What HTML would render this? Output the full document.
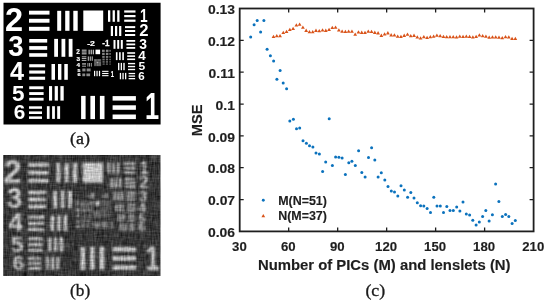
<!DOCTYPE html>
<html><head><meta charset="utf-8"><title>Figure</title>
<style>html,body{margin:0;padding:0;background:#fff}svg{display:block}</style></head>
<body>
<svg width="550" height="305" viewBox="0 0 550 305">
<defs>
<filter id="soft" x="-2%" y="-2%" width="104%" height="104%"><feGaussianBlur stdDeviation="0.45"/></filter>
<filter id="noisy" x="0" y="0" width="100%" height="100%" color-interpolation-filters="sRGB">
<feGaussianBlur in="SourceGraphic" stdDeviation="0.9" result="b"/>
<feComponentTransfer in="b" result="lc"><feFuncR type="linear" slope="0.56" intercept="0.215"/><feFuncG type="linear" slope="0.56" intercept="0.215"/><feFuncB type="linear" slope="0.56" intercept="0.215"/></feComponentTransfer>
<feTurbulence type="fractalNoise" baseFrequency="0.1 0.65" numOctaves="2" seed="3" result="n1"/>
<feColorMatrix in="n1" type="matrix" values="1 0 0 0 0  1 0 0 0 0  1 0 0 0 0  0 0 0 0 1" result="g1"/>
<feTurbulence type="fractalNoise" baseFrequency="0.65 0.1" numOctaves="2" seed="8" result="n2"/>
<feColorMatrix in="n2" type="matrix" values="1 0 0 0 0  1 0 0 0 0  1 0 0 0 0  0 0 0 0 1" result="g2"/>
<feComposite in="lc" in2="g1" operator="arithmetic" k1="0.15" k2="0.925" k3="0.165" k4="-0.0825" result="m1"/>
<feComposite in="m1" in2="g2" operator="arithmetic" k1="0.12" k2="0.94" k3="0.25" k4="-0.125"/>
</filter>
<clipPath id="ca"><rect x="3.5" y="2.75" width="157.1" height="121.65"/></clipPath>
<clipPath id="cb"><rect x="3.2" y="155.1" width="157.3" height="120.9"/></clipPath>
<g id="usaf"><rect x="0" y="0" width="165" height="128" fill="#000"/><text transform="matrix(0.3250 0 0 0.3355 4.96 30.80)" font-family='"Liberation Sans",sans-serif' font-weight="700" font-size="100" fill="#fff">2</text><rect x="29.00" y="10.70" width="20.50" height="3.90" fill="#fff"/><rect x="29.00" y="18.80" width="20.50" height="3.90" fill="#fff"/><rect x="29.00" y="26.80" width="20.50" height="4.00" fill="#fff"/><rect x="57.20" y="10.80" width="4.00" height="20.00" fill="#fff"/><rect x="65.20" y="10.80" width="4.30" height="20.00" fill="#fff"/><rect x="73.30" y="10.80" width="4.40" height="20.00" fill="#fff"/><text transform="matrix(0.2754 0 0 0.2901 8.18 56.24)" font-family='"Liberation Sans",sans-serif' font-weight="700" font-size="100" fill="#fff">3</text><rect x="29.20" y="39.00" width="18.00" height="3.60" fill="#fff"/><rect x="29.20" y="46.10" width="18.00" height="3.70" fill="#fff"/><rect x="29.20" y="53.20" width="18.00" height="3.60" fill="#fff"/><rect x="54.20" y="38.90" width="3.80" height="17.90" fill="#fff"/><rect x="61.50" y="38.90" width="3.80" height="17.90" fill="#fff"/><rect x="68.70" y="38.90" width="3.80" height="17.90" fill="#fff"/><text transform="matrix(0.2523 0 0 0.2618 10.12 79.80)" font-family='"Liberation Sans",sans-serif' font-weight="700" font-size="100" fill="#fff">4</text><rect x="29.20" y="64.20" width="15.90" height="3.10" fill="#fff"/><rect x="29.20" y="70.50" width="15.90" height="3.10" fill="#fff"/><rect x="29.20" y="76.70" width="15.90" height="3.10" fill="#fff"/><rect x="51.50" y="64.00" width="3.50" height="15.80" fill="#fff"/><rect x="58.00" y="64.00" width="3.40" height="15.80" fill="#fff"/><rect x="64.30" y="64.00" width="3.50" height="15.80" fill="#fff"/><text transform="matrix(0.2251 0 0 0.2294 12.12 100.57)" font-family='"Liberation Sans",sans-serif' font-weight="700" font-size="100" fill="#fff">5</text><rect x="29.20" y="86.30" width="14.40" height="2.90" fill="#fff"/><rect x="29.20" y="92.10" width="14.40" height="2.90" fill="#fff"/><rect x="29.20" y="97.80" width="14.40" height="2.80" fill="#fff"/><rect x="49.00" y="86.10" width="3.10" height="14.50" fill="#fff"/><rect x="54.70" y="86.10" width="3.20" height="14.50" fill="#fff"/><rect x="60.40" y="86.10" width="3.30" height="14.50" fill="#fff"/><text transform="matrix(0.2073 0 0 0.2092 13.72 119.09)" font-family='"Liberation Sans",sans-serif' font-weight="700" font-size="100" fill="#fff">6</text><rect x="29.00" y="106.30" width="13.00" height="2.50" fill="#fff"/><rect x="29.00" y="111.40" width="13.00" height="2.60" fill="#fff"/><rect x="29.00" y="116.40" width="13.00" height="2.50" fill="#fff"/><rect x="46.90" y="106.20" width="2.70" height="12.70" fill="#fff"/><rect x="52.10" y="106.20" width="2.80" height="12.70" fill="#fff"/><rect x="57.20" y="106.20" width="2.90" height="12.70" fill="#fff"/><rect x="81.10" y="95.90" width="4.50" height="23.20" fill="#fff"/><rect x="90.40" y="95.90" width="4.60" height="23.20" fill="#fff"/><rect x="99.90" y="95.90" width="4.60" height="23.20" fill="#fff"/><rect x="112.60" y="96.10" width="23.30" height="4.50" fill="#fff"/><rect x="112.60" y="105.30" width="23.30" height="4.50" fill="#fff"/><rect x="112.60" y="114.50" width="23.30" height="4.60" fill="#fff"/><text transform="matrix(0.2538 0 0 0.3622 145.11 119.40)" font-family='"Liberation Sans",sans-serif' font-weight="700" font-size="100" fill="#fff">1</text><rect x="83.30" y="10.50" width="19.90" height="20.40" fill="#fff"/><rect x="108.00" y="10.30" width="2.30" height="11.50" fill="#fff"/><rect x="112.60" y="10.30" width="2.30" height="11.50" fill="#fff"/><rect x="117.20" y="10.30" width="2.30" height="11.50" fill="#fff"/><rect x="124.20" y="10.40" width="11.30" height="2.20" fill="#fff"/><rect x="124.20" y="15.00" width="11.30" height="2.20" fill="#fff"/><rect x="124.20" y="19.60" width="11.30" height="2.20" fill="#fff"/><text transform="matrix(0.1376 0 0 0.1905 140.04 22.00)" font-family='"Liberation Sans",sans-serif' font-weight="700" font-size="100" fill="#fff">1</text><rect x="110.80" y="26.00" width="2.20" height="10.00" fill="#fff"/><rect x="115.00" y="26.00" width="2.20" height="10.00" fill="#fff"/><rect x="119.10" y="26.00" width="2.20" height="10.00" fill="#fff"/><rect x="125.00" y="26.10" width="10.20" height="2.00" fill="#fff"/><rect x="125.00" y="30.00" width="10.20" height="2.00" fill="#fff"/><rect x="125.00" y="34.00" width="10.20" height="2.00" fill="#fff"/><text transform="matrix(0.1667 0 0 0.1606 139.22 36.20)" font-family='"Liberation Sans",sans-serif' font-weight="700" font-size="100" fill="#fff">2</text><rect x="113.50" y="40.00" width="2.00" height="8.80" fill="#fff"/><rect x="117.20" y="40.00" width="2.00" height="8.80" fill="#fff"/><rect x="120.80" y="40.00" width="2.00" height="8.80" fill="#fff"/><rect x="126.40" y="40.00" width="8.80" height="1.80" fill="#fff"/><rect x="126.40" y="43.50" width="8.80" height="1.80" fill="#fff"/><rect x="126.40" y="47.00" width="8.80" height="1.80" fill="#fff"/><text transform="matrix(0.1387 0 0 0.1437 139.19 49.02)" font-family='"Liberation Sans",sans-serif' font-weight="700" font-size="100" fill="#fff">3</text><rect x="115.90" y="52.20" width="1.60" height="7.90" fill="#fff"/><rect x="119.10" y="52.20" width="1.60" height="7.90" fill="#fff"/><rect x="122.30" y="52.20" width="1.60" height="7.90" fill="#fff"/><rect x="127.20" y="52.20" width="7.90" height="1.60" fill="#fff"/><rect x="127.20" y="55.35" width="7.90" height="1.60" fill="#fff"/><rect x="127.20" y="58.50" width="7.90" height="1.60" fill="#fff"/><text transform="matrix(0.1346 0 0 0.1265 138.20 60.20)" font-family='"Liberation Sans",sans-serif' font-weight="700" font-size="100" fill="#fff">4</text><rect x="118.00" y="62.90" width="1.40" height="7.30" fill="#fff"/><rect x="120.70" y="62.90" width="1.30" height="7.30" fill="#fff"/><rect x="123.30" y="62.90" width="1.40" height="7.30" fill="#fff"/><rect x="128.00" y="62.90" width="7.10" height="1.40" fill="#fff"/><rect x="128.00" y="65.85" width="7.10" height="1.40" fill="#fff"/><rect x="128.00" y="68.80" width="7.10" height="1.40" fill="#fff"/><text transform="matrix(0.1206 0 0 0.1147 138.44 70.29)" font-family='"Liberation Sans",sans-serif' font-weight="700" font-size="100" fill="#fff">5</text><rect x="119.80" y="72.90" width="1.30" height="6.40" fill="#fff"/><rect x="122.40" y="72.90" width="1.30" height="6.40" fill="#fff"/><rect x="125.00" y="72.90" width="1.30" height="6.40" fill="#fff"/><rect x="128.60" y="72.90" width="6.50" height="1.30" fill="#fff"/><rect x="128.60" y="75.45" width="6.50" height="1.30" fill="#fff"/><rect x="128.60" y="78.00" width="6.50" height="1.30" fill="#fff"/><text transform="matrix(0.1161 0 0 0.1046 138.36 79.50)" font-family='"Liberation Sans",sans-serif' font-weight="700" font-size="100" fill="#fff">6</text><text transform="matrix(0.0867 0 0 0.0774 87.15 46.20)" font-family='"Liberation Sans",sans-serif' font-weight="700" font-size="100" fill="#fff" stroke="#fff" stroke-width="0.25" vector-effect="non-scaling-stroke">-2</text><text transform="matrix(0.0805 0 0 0.0815 102.28 46.40)" font-family='"Liberation Sans",sans-serif' font-weight="700" font-size="100" fill="#fff" stroke="#fff" stroke-width="0.25" vector-effect="non-scaling-stroke">-1</text><text transform="matrix(0.0646 0 0 0.0645 76.37 54.30)" font-family='"Liberation Sans",sans-serif' font-weight="700" font-size="100" fill="#fff" stroke="#fff" stroke-width="0.18" vector-effect="non-scaling-stroke">2</text><rect x="81.80" y="49.70" width="4.80" height="0.92" fill="#e6e6e6"/><rect x="81.80" y="51.54" width="4.80" height="0.92" fill="#e6e6e6"/><rect x="81.80" y="53.38" width="4.80" height="0.92" fill="#e6e6e6"/><rect x="88.60" y="49.70" width="1.04" height="4.60" fill="#e6e6e6"/><rect x="90.68" y="49.70" width="1.04" height="4.60" fill="#e6e6e6"/><rect x="92.76" y="49.70" width="1.04" height="4.60" fill="#e6e6e6"/><text transform="matrix(0.0643 0 0 0.0620 76.46 60.82)" font-family='"Liberation Sans",sans-serif' font-weight="700" font-size="100" fill="#fff" stroke="#fff" stroke-width="0.18" vector-effect="non-scaling-stroke">3</text><rect x="81.80" y="56.40" width="4.60" height="0.88" fill="#ccc"/><rect x="81.80" y="58.16" width="4.60" height="0.88" fill="#ccc"/><rect x="81.80" y="59.92" width="4.60" height="0.88" fill="#ccc"/><rect x="87.80" y="56.40" width="0.98" height="4.40" fill="#ccc"/><rect x="89.76" y="56.40" width="0.98" height="4.40" fill="#ccc"/><rect x="91.72" y="56.40" width="0.98" height="4.40" fill="#ccc"/><text transform="matrix(0.0636 0 0 0.0553 76.50 66.70)" font-family='"Liberation Sans",sans-serif' font-weight="700" font-size="100" fill="#fff" stroke="#fff" stroke-width="0.18" vector-effect="non-scaling-stroke">4</text><rect x="82.10" y="63.00" width="3.90" height="0.72" fill="#bbb"/><rect x="82.10" y="64.44" width="3.90" height="0.72" fill="#bbb"/><rect x="82.10" y="65.88" width="3.90" height="0.72" fill="#bbb"/><rect x="87.50" y="63.00" width="0.84" height="3.60" fill="#bbb"/><rect x="89.18" y="63.00" width="0.84" height="3.60" fill="#bbb"/><rect x="90.86" y="63.00" width="0.84" height="3.60" fill="#bbb"/><text transform="matrix(0.0523 0 0 0.0430 77.44 71.56)" font-family='"Liberation Sans",sans-serif' font-weight="700" font-size="100" fill="#fff" stroke="#fff" stroke-width="0.18" vector-effect="non-scaling-stroke">5</text><rect x="82.30" y="68.50" width="3.20" height="2.90" fill="#888"/><rect x="86.70" y="68.50" width="3.90" height="2.90" fill="#888"/><text transform="matrix(0.0560 0 0 0.0424 77.59 76.46)" font-family='"Liberation Sans",sans-serif' font-weight="700" font-size="100" fill="#fff" stroke="#fff" stroke-width="0.18" vector-effect="non-scaling-stroke">6</text><rect x="82.30" y="73.50" width="2.90" height="2.70" fill="#888"/><rect x="86.40" y="73.50" width="3.70" height="2.70" fill="#888"/><rect x="95.50" y="49.60" width="4.60" height="4.60" fill="#fff"/><rect x="102.00" y="49.70" width="2.70" height="2.20" fill="#8a8a8a"/><rect x="105.90" y="49.70" width="2.60" height="2.20" fill="#8a8a8a"/><rect x="109.50" y="49.90" width="1.10" height="1.80" fill="#9a9a9a"/><rect x="102.12" y="52.80" width="2.58" height="2.20" fill="#858585"/><rect x="105.90" y="52.80" width="2.48" height="2.20" fill="#858585"/><rect x="109.50" y="53.00" width="1.10" height="1.80" fill="#9a9a9a"/><rect x="102.24" y="55.90" width="2.46" height="2.00" fill="#7c7c7c"/><rect x="105.90" y="55.90" width="2.36" height="2.00" fill="#7c7c7c"/><rect x="109.50" y="56.10" width="1.10" height="1.60" fill="#9a9a9a"/><rect x="102.36" y="58.60" width="2.34" height="1.80" fill="#747474"/><rect x="105.90" y="58.60" width="2.24" height="1.80" fill="#747474"/><rect x="109.50" y="58.80" width="1.10" height="1.40" fill="#9a9a9a"/><rect x="102.48" y="61.10" width="2.22" height="1.60" fill="#6c6c6c"/><rect x="105.90" y="61.10" width="2.12" height="1.60" fill="#6c6c6c"/><rect x="109.50" y="61.30" width="1.10" height="1.20" fill="#9a9a9a"/><rect x="102.60" y="63.40" width="2.10" height="1.40" fill="#646464"/><rect x="105.90" y="63.40" width="2.00" height="1.40" fill="#646464"/><rect x="109.50" y="63.60" width="1.10" height="1.00" fill="#9a9a9a"/><rect x="94.00" y="59.00" width="7.20" height="7.20" fill="#4a4a4a"/><rect x="94.40" y="59.40" width="2.20" height="2.00" fill="#777"/><rect x="97.60" y="59.20" width="3.00" height="1.80" fill="#6a6a6a"/><rect x="96.60" y="61.80" width="1.80" height="1.60" fill="#aaa"/><rect x="94.40" y="62.40" width="1.60" height="3.20" fill="#666"/><rect x="99.20" y="62.00" width="1.60" height="3.80" fill="#707070"/><rect x="96.80" y="64.20" width="1.80" height="1.60" fill="#7a7a7a"/><rect x="94.00" y="70.80" width="1.22" height="5.40" fill="#fff"/><rect x="96.44" y="70.80" width="1.22" height="5.40" fill="#fff"/><rect x="98.88" y="70.80" width="1.22" height="5.40" fill="#fff"/><rect x="102.10" y="70.80" width="6.40" height="1.08" fill="#fff"/><rect x="102.10" y="72.96" width="6.40" height="1.08" fill="#fff"/><rect x="102.10" y="75.12" width="6.40" height="1.08" fill="#fff"/><text transform="matrix(0.0559 0 0 0.0887 110.65 76.60)" font-family='"Liberation Sans",sans-serif' font-weight="700" font-size="100" fill="#fff" stroke="#fff" stroke-width="0.18" vector-effect="non-scaling-stroke">1</text></g>
</defs>
<rect width="550" height="305" fill="#fff"/>
<g clip-path="url(#ca)"><use href="#usaf" filter="url(#soft)"/></g>
<g clip-path="url(#cb)"><g transform="translate(-1.4 152.25) scale(1.011 0.9875)"><use href="#usaf" filter="url(#noisy)"/></g></g>
<rect x="239.7" y="8.5" width="293.90" height="222.90" fill="none" stroke="#1e1e1e" stroke-width="1.8"/><text transform="matrix(0.1319 0 0 0.1276 232.10 250.70)" font-family='"Liberation Sans",sans-serif' font-weight="700" font-size="100" fill="#1e1e1e" stroke="#1e1e1e" stroke-width="0.15" vector-effect="non-scaling-stroke">30</text><path d="M288.68 231.4v-4.0M288.68 8.5v4.0" stroke="#1e1e1e" stroke-width="1.3"/><text transform="matrix(0.1319 0 0 0.1276 280.98 250.70)" font-family='"Liberation Sans",sans-serif' font-weight="700" font-size="100" fill="#1e1e1e" stroke="#1e1e1e" stroke-width="0.15" vector-effect="non-scaling-stroke">60</text><path d="M337.67 231.4v-4.0M337.67 8.5v4.0" stroke="#1e1e1e" stroke-width="1.3"/><text transform="matrix(0.1319 0 0 0.1276 329.98 250.70)" font-family='"Liberation Sans",sans-serif' font-weight="700" font-size="100" fill="#1e1e1e" stroke="#1e1e1e" stroke-width="0.15" vector-effect="non-scaling-stroke">90</text><path d="M386.65 231.4v-4.0M386.65 8.5v4.0" stroke="#1e1e1e" stroke-width="1.3"/><text transform="matrix(0.1319 0 0 0.1276 375.11 250.70)" font-family='"Liberation Sans",sans-serif' font-weight="700" font-size="100" fill="#1e1e1e" stroke="#1e1e1e" stroke-width="0.15" vector-effect="non-scaling-stroke">120</text><path d="M435.63 231.4v-4.0M435.63 8.5v4.0" stroke="#1e1e1e" stroke-width="1.3"/><text transform="matrix(0.1319 0 0 0.1276 424.09 250.70)" font-family='"Liberation Sans",sans-serif' font-weight="700" font-size="100" fill="#1e1e1e" stroke="#1e1e1e" stroke-width="0.15" vector-effect="non-scaling-stroke">150</text><path d="M484.62 231.4v-4.0M484.62 8.5v4.0" stroke="#1e1e1e" stroke-width="1.3"/><text transform="matrix(0.1319 0 0 0.1276 473.07 250.70)" font-family='"Liberation Sans",sans-serif' font-weight="700" font-size="100" fill="#1e1e1e" stroke="#1e1e1e" stroke-width="0.15" vector-effect="non-scaling-stroke">180</text><text transform="matrix(0.1319 0 0 0.1276 522.24 250.70)" font-family='"Liberation Sans",sans-serif' font-weight="700" font-size="100" fill="#1e1e1e" stroke="#1e1e1e" stroke-width="0.15" vector-effect="non-scaling-stroke">210</text><text transform="matrix(0.1390 0 0 0.1276 207.94 14.25)" font-family='"Liberation Sans",sans-serif' font-weight="700" font-size="100" fill="#1e1e1e" stroke="#1e1e1e" stroke-width="0.15" vector-effect="non-scaling-stroke">0.13</text><path d="M239.7 40.34h4.0M533.6 40.34h-4.0" stroke="#1e1e1e" stroke-width="1.3"/><text transform="matrix(0.1390 0 0 0.1276 208.01 46.09)" font-family='"Liberation Sans",sans-serif' font-weight="700" font-size="100" fill="#1e1e1e" stroke="#1e1e1e" stroke-width="0.15" vector-effect="non-scaling-stroke">0.12</text><path d="M239.7 72.19h4.0M533.6 72.19h-4.0" stroke="#1e1e1e" stroke-width="1.3"/><text transform="matrix(0.1390 0 0 0.1276 208.60 77.94)" font-family='"Liberation Sans",sans-serif' font-weight="700" font-size="100" fill="#1e1e1e" stroke="#1e1e1e" stroke-width="0.15" vector-effect="non-scaling-stroke">0.11</text><path d="M239.7 104.03h4.0M533.6 104.03h-4.0" stroke="#1e1e1e" stroke-width="1.3"/><text transform="matrix(0.1390 0 0 0.1276 215.56 109.78)" font-family='"Liberation Sans",sans-serif' font-weight="700" font-size="100" fill="#1e1e1e" stroke="#1e1e1e" stroke-width="0.15" vector-effect="non-scaling-stroke">0.1</text><path d="M239.7 135.87h4.0M533.6 135.87h-4.0" stroke="#1e1e1e" stroke-width="1.3"/><text transform="matrix(0.1390 0 0 0.1276 207.94 141.62)" font-family='"Liberation Sans",sans-serif' font-weight="700" font-size="100" fill="#1e1e1e" stroke="#1e1e1e" stroke-width="0.15" vector-effect="non-scaling-stroke">0.09</text><path d="M239.7 167.71h4.0M533.6 167.71h-4.0" stroke="#1e1e1e" stroke-width="1.3"/><text transform="matrix(0.1390 0 0 0.1276 207.87 173.46)" font-family='"Liberation Sans",sans-serif' font-weight="700" font-size="100" fill="#1e1e1e" stroke="#1e1e1e" stroke-width="0.15" vector-effect="non-scaling-stroke">0.08</text><path d="M239.7 199.56h4.0M533.6 199.56h-4.0" stroke="#1e1e1e" stroke-width="1.3"/><text transform="matrix(0.1390 0 0 0.1276 208.05 205.31)" font-family='"Liberation Sans",sans-serif' font-weight="700" font-size="100" fill="#1e1e1e" stroke="#1e1e1e" stroke-width="0.15" vector-effect="non-scaling-stroke">0.07</text><text transform="matrix(0.1390 0 0 0.1276 207.94 237.15)" font-family='"Liberation Sans",sans-serif' font-weight="700" font-size="100" fill="#1e1e1e" stroke="#1e1e1e" stroke-width="0.15" vector-effect="non-scaling-stroke">0.06</text><text transform="matrix(0.1488 0 0 0.1469 257.90 270.00)" font-family='"Liberation Sans",sans-serif' font-weight="700" font-size="100" fill="#1e1e1e" stroke="#1e1e1e" stroke-width="0.15" vector-effect="non-scaling-stroke">Number of PICs (M) and lenslets (N)</text><circle cx="263.3" cy="200.2" r="1.45" fill="#0b72bd"/><path d="M261.4 217.3L263.3 214.0L265.2 217.3z" fill="#d95319"/><text transform="matrix(0.1245 0 0 0.1193 278.16 205.30)" font-family='"Liberation Sans",sans-serif' font-weight="700" font-size="100" fill="#1e1e1e" stroke="#1e1e1e" stroke-width="0.15" vector-effect="non-scaling-stroke">M(N=51)</text><text transform="matrix(0.1245 0 0 0.1193 278.16 219.80)" font-family='"Liberation Sans",sans-serif' font-weight="700" font-size="100" fill="#1e1e1e" stroke="#1e1e1e" stroke-width="0.15" vector-effect="non-scaling-stroke">N(M=37)</text>
<text transform="matrix(0 -0.1456 0.1448 0 201.7 136.18)" font-family='"Liberation Sans",sans-serif' font-weight="700" font-size="100" fill="#1e1e1e" stroke="#1e1e1e" stroke-width="0.15" vector-effect="non-scaling-stroke">MSE</text>
<g fill="#0b72bd"><circle cx="250.7" cy="36.9" r="1.5"/><circle cx="254.1" cy="24.7" r="1.5"/><circle cx="257.2" cy="20.4" r="1.5"/><circle cx="260.6" cy="32.0" r="1.5"/><circle cx="263.9" cy="20.4" r="1.5"/><circle cx="267.1" cy="49.2" r="1.5"/><circle cx="270.4" cy="55.8" r="1.5"/><circle cx="273.6" cy="61.1" r="1.5"/><circle cx="276.9" cy="79.3" r="1.5"/><circle cx="280.1" cy="70.5" r="1.5"/><circle cx="283.2" cy="83.1" r="1.5"/><circle cx="286.6" cy="88.8" r="1.5"/><circle cx="289.8" cy="120.9" r="1.5"/><circle cx="293.4" cy="119.3" r="1.5"/><circle cx="296.5" cy="128.7" r="1.5"/><circle cx="299.7" cy="128.1" r="1.5"/><circle cx="303.0" cy="140.7" r="1.5"/><circle cx="306.4" cy="143.3" r="1.5"/><circle cx="309.5" cy="145.7" r="1.5"/><circle cx="312.9" cy="146.9" r="1.5"/><circle cx="316.0" cy="153.0" r="1.5"/><circle cx="319.4" cy="154.1" r="1.5"/><circle cx="322.6" cy="171.5" r="1.5"/><circle cx="325.7" cy="162.0" r="1.5"/><circle cx="329.2" cy="118.7" r="1.5"/><circle cx="332.4" cy="165.6" r="1.5"/><circle cx="335.6" cy="157.1" r="1.5"/><circle cx="338.9" cy="157.3" r="1.5"/><circle cx="342.1" cy="157.9" r="1.5"/><circle cx="345.4" cy="174.4" r="1.5"/><circle cx="348.8" cy="162.8" r="1.5"/><circle cx="351.9" cy="161.3" r="1.5"/><circle cx="355.3" cy="165.6" r="1.5"/><circle cx="358.6" cy="150.7" r="1.5"/><circle cx="361.8" cy="172.5" r="1.5"/><circle cx="365.1" cy="177.0" r="1.5"/><circle cx="368.5" cy="157.4" r="1.5"/><circle cx="371.6" cy="147.8" r="1.5"/><circle cx="374.8" cy="160.0" r="1.5"/><circle cx="378.1" cy="177.0" r="1.5"/><circle cx="381.3" cy="172.7" r="1.5"/><circle cx="384.8" cy="179.9" r="1.5"/><circle cx="388.0" cy="186.4" r="1.5"/><circle cx="391.3" cy="191.1" r="1.5"/><circle cx="394.5" cy="192.1" r="1.5"/><circle cx="397.8" cy="196.0" r="1.5"/><circle cx="401.0" cy="185.8" r="1.5"/><circle cx="404.3" cy="190.1" r="1.5"/><circle cx="407.6" cy="197.2" r="1.5"/><circle cx="410.8" cy="192.6" r="1.5"/><circle cx="414.0" cy="198.0" r="1.5"/><circle cx="417.3" cy="202.8" r="1.5"/><circle cx="420.6" cy="205.8" r="1.5"/><circle cx="423.8" cy="206.0" r="1.5"/><circle cx="427.1" cy="208.6" r="1.5"/><circle cx="430.5" cy="212.5" r="1.5"/><circle cx="433.8" cy="197.2" r="1.5"/><circle cx="437.0" cy="205.9" r="1.5"/><circle cx="440.3" cy="206.1" r="1.5"/><circle cx="443.5" cy="212.4" r="1.5"/><circle cx="446.8" cy="206.5" r="1.5"/><circle cx="450.0" cy="210.4" r="1.5"/><circle cx="453.3" cy="210.4" r="1.5"/><circle cx="456.7" cy="207.0" r="1.5"/><circle cx="459.9" cy="211.0" r="1.5"/><circle cx="463.0" cy="202.1" r="1.5"/><circle cx="466.3" cy="214.1" r="1.5"/><circle cx="469.6" cy="214.9" r="1.5"/><circle cx="472.8" cy="220.2" r="1.5"/><circle cx="476.1" cy="225.1" r="1.5"/><circle cx="479.3" cy="221.9" r="1.5"/><circle cx="482.6" cy="216.4" r="1.5"/><circle cx="485.8" cy="210.6" r="1.5"/><circle cx="489.1" cy="220.9" r="1.5"/><circle cx="492.4" cy="214.8" r="1.5"/><circle cx="495.6" cy="183.9" r="1.5"/><circle cx="498.9" cy="201.6" r="1.5"/><circle cx="502.3" cy="216.6" r="1.5"/><circle cx="505.6" cy="214.4" r="1.5"/><circle cx="508.8" cy="216.4" r="1.5"/><circle cx="512.1" cy="223.6" r="1.5"/><circle cx="515.3" cy="220.6" r="1.5"/></g><g fill="#d95319"><path d="M271.60 38.00L273.50 34.70L275.40 38.00z"/><path d="M274.87 37.20L276.77 33.90L278.67 37.20z"/><path d="M278.14 37.30L280.04 34.00L281.94 37.30z"/><path d="M281.40 34.10L283.30 30.80L285.20 34.10z"/><path d="M284.67 33.10L286.57 29.80L288.47 33.10z"/><path d="M287.94 31.10L289.84 27.80L291.74 31.10z"/><path d="M291.21 30.00L293.11 26.70L295.01 30.00z"/><path d="M294.48 26.50L296.38 23.20L298.28 26.50z"/><path d="M297.74 25.70L299.64 22.40L301.54 25.70z"/><path d="M301.01 28.70L302.91 25.40L304.81 28.70z"/><path d="M304.28 31.90L306.18 28.60L308.08 31.90z"/><path d="M307.55 33.30L309.45 30.00L311.35 33.30z"/><path d="M310.82 33.30L312.72 30.00L314.62 33.30z"/><path d="M314.08 31.90L315.98 28.60L317.88 31.90z"/><path d="M317.35 32.30L319.25 29.00L321.15 32.30z"/><path d="M320.62 31.50L322.52 28.20L324.42 31.50z"/><path d="M323.89 31.90L325.79 28.60L327.69 31.90z"/><path d="M327.16 31.10L329.06 27.80L330.96 31.10z"/><path d="M330.42 29.00L332.32 25.70L334.22 29.00z"/><path d="M333.69 28.70L335.59 25.40L337.49 28.70z"/><path d="M336.96 31.50L338.86 28.20L340.76 31.50z"/><path d="M340.23 32.80L342.13 29.50L344.03 32.80z"/><path d="M343.50 33.10L345.40 29.80L347.30 33.10z"/><path d="M346.76 32.80L348.66 29.50L350.56 32.80z"/><path d="M350.03 32.80L351.93 29.50L353.83 32.80z"/><path d="M353.30 35.70L355.20 32.40L357.10 35.70z"/><path d="M356.57 33.60L358.47 30.30L360.37 33.60z"/><path d="M359.84 33.90L361.74 30.60L363.64 33.90z"/><path d="M363.10 34.10L365.00 30.80L366.90 34.10z"/><path d="M366.37 32.80L368.27 29.50L370.17 32.80z"/><path d="M369.64 33.10L371.54 29.80L373.44 33.10z"/><path d="M372.91 33.90L374.81 30.60L376.71 33.90z"/><path d="M376.18 34.40L378.08 31.10L379.98 34.40z"/><path d="M379.44 36.90L381.34 33.60L383.24 36.90z"/><path d="M382.71 35.50L384.61 32.20L386.51 35.50z"/><path d="M385.98 34.40L387.88 31.10L389.78 34.40z"/><path d="M389.25 36.40L391.15 33.10L393.05 36.40z"/><path d="M392.52 36.50L394.42 33.20L396.32 36.50z"/><path d="M395.78 37.70L397.68 34.40L399.58 37.70z"/><path d="M399.05 38.00L400.95 34.70L402.85 38.00z"/><path d="M402.32 36.90L404.22 33.60L406.12 36.90z"/><path d="M405.59 35.70L407.49 32.40L409.39 35.70z"/><path d="M408.86 37.20L410.76 33.90L412.66 37.20z"/><path d="M412.12 36.90L414.02 33.60L415.92 36.90z"/><path d="M415.39 38.50L417.29 35.20L419.19 38.50z"/><path d="M418.66 39.60L420.56 36.30L422.46 39.60z"/><path d="M421.93 38.20L423.83 34.90L425.73 38.20z"/><path d="M425.20 39.00L427.10 35.70L429.00 39.00z"/><path d="M428.46 38.20L430.36 34.90L432.26 38.20z"/><path d="M431.73 37.70L433.63 34.40L435.53 37.70z"/><path d="M435.00 36.70L436.90 33.40L438.80 36.70z"/><path d="M438.27 37.20L440.17 33.90L442.07 37.20z"/><path d="M441.54 38.00L443.44 34.70L445.34 38.00z"/><path d="M444.80 38.20L446.70 34.90L448.60 38.20z"/><path d="M448.07 38.20L449.97 34.90L451.87 38.20z"/><path d="M451.34 38.20L453.24 34.90L455.14 38.20z"/><path d="M454.61 38.50L456.51 35.20L458.41 38.50z"/><path d="M457.88 37.70L459.78 34.40L461.68 37.70z"/><path d="M461.14 38.00L463.04 34.70L464.94 38.00z"/><path d="M464.41 37.70L466.31 34.40L468.21 37.70z"/><path d="M467.68 38.00L469.58 34.70L471.48 38.00z"/><path d="M470.95 38.50L472.85 35.20L474.75 38.50z"/><path d="M474.22 38.00L476.12 34.70L478.02 38.00z"/><path d="M477.48 36.50L479.38 33.20L481.28 36.50z"/><path d="M480.75 37.20L482.65 33.90L484.55 37.20z"/><path d="M484.02 37.70L485.92 34.40L487.82 37.70z"/><path d="M487.29 38.80L489.19 35.50L491.09 38.80z"/><path d="M490.56 38.50L492.46 35.20L494.36 38.50z"/><path d="M493.82 38.50L495.72 35.20L497.62 38.50z"/><path d="M497.09 38.80L498.99 35.50L500.89 38.80z"/><path d="M500.36 39.30L502.26 36.00L504.16 39.30z"/><path d="M503.63 38.20L505.53 34.90L507.43 38.20z"/><path d="M506.90 38.50L508.80 35.20L510.70 38.50z"/><path d="M510.16 40.10L512.06 36.80L513.96 40.10z"/><path d="M513.43 40.10L515.33 36.80L517.23 40.10z"/></g>
<text transform="matrix(0.1800 0 0 0.1741 70.09 144.40)" font-family='"Liberation Serif",serif' font-size="100" fill="#1a1a1a" stroke="#1a1a1a" stroke-width="0.35" vector-effect="non-scaling-stroke">(a)</text><text transform="matrix(0.1726 0 0 0.1730 70.12 296.42)" font-family='"Liberation Serif",serif' font-size="100" fill="#1a1a1a" stroke="#1a1a1a" stroke-width="0.35" vector-effect="non-scaling-stroke">(b)</text><text transform="matrix(0.1780 0 0 0.1631 365.40 296.13)" font-family='"Liberation Serif",serif' font-size="100" fill="#1a1a1a" stroke="#1a1a1a" stroke-width="0.35" vector-effect="non-scaling-stroke">(c)</text>
</svg>
</body></html>
